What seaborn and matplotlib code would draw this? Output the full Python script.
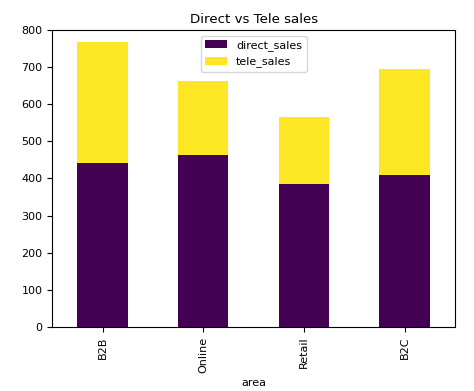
import pandas as pd
import matplotlib
matplotlib.use('Agg')
import matplotlib.pyplot as plt
import seaborn as sns

# values
areas = ['B2B', 'Online', 'Retail', 'B2C']
direct_sales = [442, 464, 384, 410]
tele_sales = [325, 200, 182, 285]

df = pd.DataFrame({'area': areas, 'direct_sales': direct_sales, 'tele_sales': tele_sales})
df['total'] = df['direct_sales'] + df['tele_sales']

purple = '#440154'
yellow = '#fde725'

plt.rcParams['font.size'] = 8
fig = plt.figure(figsize=(4.74, 3.91), dpi=100)
ax = fig.add_axes([0.11, 0.164, 0.85, 0.759])

# stacked bars: full height in yellow, direct part drawn over it in purple
sns.barplot(x='area', y='total', data=df, color=yellow, width=0.5,
            saturation=1, ax=ax, label='tele_sales')
sns.barplot(x='area', y='direct_sales', data=df, color=purple, width=0.5,
            saturation=1, ax=ax, label='direct_sales')

ax.set_xlim(-0.5, 3.5)
ax.set_ylim(0, 800)
ax.set_xlabel('area', fontsize=8)
ax.set_ylabel('')
ax.set_title('Direct vs Tele sales', fontsize=9.6, pad=5)
ax.tick_params(labelsize=8)
plt.setp(ax.get_xticklabels(), rotation=90)

handles, labels = ax.get_legend_handles_labels()
order = [labels.index('direct_sales'), labels.index('tele_sales')]
ax.legend([handles[i] for i in order], [labels[i] for i in order],
          loc='upper center', fontsize=8)

plt.savefig('out.png', dpi=100)
